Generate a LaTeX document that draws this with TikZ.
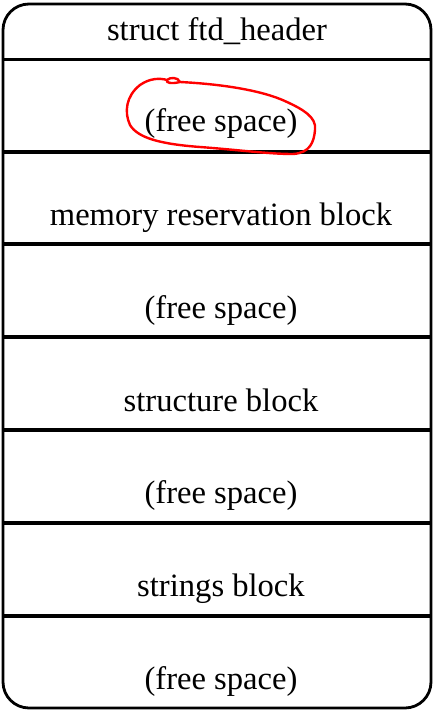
\documentclass[tikz,border=0pt]{standalone}
\usepackage{fontspec}
\setmainfont{Liberation Serif}
\begin{document}
\begin{tikzpicture}[x=1bp,y=-1bp,
  cell/.style={anchor=base,inner sep=0pt,font=\fontsize{32.6bp}{36bp}\selectfont},
  sep/.style={line width=3.8bp},
  outer/.style={line width=2.8bp,rounded corners=26bp},
  redmark/.style={red,line width=2.4bp,line join=round,line cap=round}]
\useasboundingbox (0,0) rectangle (434,711);
\draw[outer] (3,4) rectangle (431,708);
\foreach \y in {59.5,151.7,244.3,337.3,429.7,522.7,615.7}
  \draw[sep] (4.4,\y) -- (429.6,\y);
\node[cell] (hdr) at (217,40.5) {struct ftd\_header};
\node[cell] (f1)  at (221,132) {(free space)};
\node[cell] (mem) at (221,225) {memory reservation block};
\node[cell] (f2)  at (221,318) {(free space)};
\node[cell] (str) at (221,411) {structure block};
\node[cell] (f3)  at (221,503.5) {(free space)};
\node[cell] (sb)  at (221,596.5) {strings block};
\node[cell] (f4)  at (221,689) {(free space)};
\draw[redmark]
  (180,82) .. controls (178,77) and (170,77) .. (167,80)
  .. controls (165,83) and (172,84) .. (180,82)
  .. controls (220,84) and (262,90) .. (287,102)
  .. controls (302,109) and (317,117) .. (315,130)
  .. controls (314,142) and (310,153) .. (293,154)
  .. controls (268,154) and (240,150) .. (200,147)
  .. controls (160,144) and (138,138) .. (130,125)
  .. controls (124,112) and (126,96) .. (140,85)
  .. controls (150,78) and (160,78) .. (167,80);
\end{tikzpicture}
\end{document}
